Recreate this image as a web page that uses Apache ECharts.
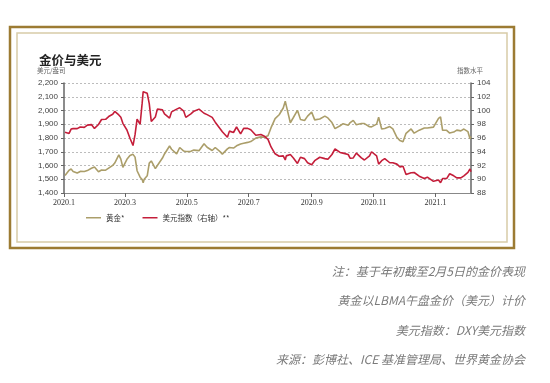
<!DOCTYPE html>
<html><head><meta charset="utf-8">
<script src="https://cdn.jsdelivr.net/npm/echarts@6/dist/echarts.min.js"></script>
<style>html,body{margin:0;padding:0;background:#fff}#c{width:550px;height:383px}</style>
</head><body><div id="c"></div>
<script>
var dates = ['2020-01-02','2020-01-06','2020-01-08','2020-01-10','2020-01-14','2020-01-17','2020-01-21','2020-01-24','2020-01-28','2020-01-31',
'2020-02-04','2020-02-07','2020-02-11','2020-02-14','2020-02-18','2020-02-20','2020-02-24','2020-02-26','2020-02-28',
'2020-03-03','2020-03-06','2020-03-09','2020-03-11','2020-03-13','2020-03-16','2020-03-18','2020-03-19','2020-03-20','2020-03-23','2020-03-25','2020-03-27','2020-03-31',
'2020-04-02','2020-04-07','2020-04-09','2020-04-14','2020-04-16','2020-04-21','2020-04-24','2020-04-28','2020-04-30',
'2020-05-05','2020-05-08','2020-05-13','2020-05-18','2020-05-21','2020-05-26','2020-05-29',
'2020-06-03','2020-06-05','2020-06-10','2020-06-12','2020-06-16','2020-06-19','2020-06-23','2020-06-26','2020-06-30',
'2020-07-03','2020-07-08','2020-07-13','2020-07-16','2020-07-20','2020-07-23','2020-07-27','2020-07-31',
'2020-08-04','2020-08-06','2020-08-07','2020-08-11','2020-08-14','2020-08-18','2020-08-21','2020-08-25','2020-08-28',
'2020-09-01','2020-09-04','2020-09-09','2020-09-14','2020-09-17','2020-09-21','2020-09-24','2020-09-25','2020-09-29',
'2020-10-02','2020-10-07','2020-10-09','2020-10-12','2020-10-15','2020-10-20','2020-10-23','2020-10-28','2020-10-30',
'2020-11-04','2020-11-06','2020-11-09','2020-11-12','2020-11-17','2020-11-20','2020-11-24','2020-11-27','2020-11-30',
'2020-12-03','2020-12-08','2020-12-11','2020-12-16','2020-12-21','2020-12-24','2020-12-30',
'2021-01-04','2021-01-06','2021-01-08','2021-01-12','2021-01-15','2021-01-19','2021-01-22','2021-01-26','2021-01-29',
'2021-02-02','2021-02-04','2021-02-05'];
var gold = [1528,1566,1574,1557,1546,1557,1556,1563,1580,1589,
1555,1567,1566,1581,1601,1618,1677,1646,1586,
1645,1672,1681,1661,1562,1515,1498,1474,1500,1525,1617,1633,1577,
1600,1654,1684,1742,1718,1685,1731,1705,1702,
1703,1712,1708,1758,1733,1709,1731,
1699,1683,1721,1731,1727,1743,1757,1762,1768,
1774,1799,1808,1805,1816,1875,1941,1969,
2018,2067,2035,1911,1949,2001,1935,1927,1959,
1988,1932,1938,1959,1946,1912,1868,1863,1889,
1904,1893,1912,1928,1897,1906,1905,1882,1881,
1901,1951,1866,1869,1883,1866,1805,1781,1772,
1834,1866,1835,1857,1873,1873,1879,
1943,1954,1856,1856,1836,1843,1857,1852,1865,
1846,1794,1811];
var dxy = [96.85,96.67,97.30,97.36,97.37,97.61,97.55,97.87,97.95,97.39,
97.97,98.69,98.72,99.12,99.45,99.86,99.35,99.03,98.13,
97.17,95.97,94.90,96.48,98.75,98.0,101.07,102.74,102.82,102.5,101.0,98.4,99.05,
100.2,100.1,99.5,98.9,99.8,100.2,100.4,99.9,99.0,
99.5,99.9,100.2,99.6,99.4,99.0,98.3,
97.3,96.9,96.1,97.0,96.8,97.6,96.6,97.4,97.4,
97.2,96.4,96.5,96.3,95.8,94.7,93.7,93.35,
93.4,92.8,93.4,93.6,93.1,92.3,93.2,93.0,92.4,
92.1,92.7,93.2,93.0,92.9,93.6,94.4,94.6,93.9,
93.8,93.6,93.05,93.1,93.8,93.1,92.8,93.4,94.0,
93.4,92.2,92.7,93.0,92.4,92.4,92.2,91.8,91.9,
90.7,90.95,90.98,90.45,90.1,90.3,89.7,
89.9,89.5,90.1,90.1,90.8,90.5,90.2,90.2,90.5,
91.0,91.5,91.1];
var monthTicks = ['2020-01-01','2020-03-01','2020-05-01','2020-07-01','2020-09-01','2020-11-01','2021-01-01'];
var title = '金价与美元';
var leftUnit = '美元/盎司';
var rightUnit = '指数水平';
var seriesNames = ['黄金*','美元指数（右轴）**'];
var notes = ['注：基于年初截至2月5日的金价表现','黄金以LBMA午盘金价（美元）计价','美元指数：DXY美元指数','来源：彭博社、ICE 基准管理局、世界黄金协会'];

function ts(s){var p=s.split('-');return Date.UTC(+p[0],+p[1]-1,+p[2]);}
var tickVals = monthTicks.map(ts);
var goldData = dates.map(function(d,i){return [ts(d),gold[i]];});
var dxyData = dates.map(function(d,i){return [ts(d),dxy[i]];});

var chart = echarts.init(document.getElementById('c'));
var gridLine = {show:true,lineStyle:{color:'#a0a0a0',width:0.7,type:[2,2]}};
var noteGraphics = notes.map(function(t,i){
  return {type:'text',right:25,top:265+i*29.5,style:{text:t,fill:'#7a7a7a',font:'italic 12px "Noto Sans CJK SC", sans-serif',textAlign:'right'}};
});
chart.setOption({
  animation:false,
  backgroundColor:'#fff',
  title:{text:title,left:34,top:49,textStyle:{fontSize:12.5,fontWeight:'bold',color:'#222',fontFamily:'"Noto Sans CJK SC", sans-serif'}},
  grid:{left:64,right:79,top:83,bottom:190},
  legend:{left:81,top:209,icon:'rect',itemWidth:15,itemHeight:1.5,itemGap:18,
    textStyle:{fontSize:7.5,color:'#333',fontFamily:'"Noto Sans CJK SC", serif'},
    data:seriesNames},
  xAxis:{type:'value',min:ts('2020-01-01'),max:ts('2021-02-05'),
    axisLine:{show:true,lineStyle:{color:'#888',width:1}},
    axisTick:{show:true,customValues:tickVals,length:4,lineStyle:{color:'#666'}},
    axisLabel:{customValues:tickVals,fontSize:8,color:'#333',fontFamily:'"Liberation Serif", serif',margin:6,
      formatter:function(v){var d=new Date(v);return d.getUTCFullYear()+'.'+(d.getUTCMonth()+1);}},
    splitLine:{show:false}},
  yAxis:[
    {type:'value',min:1400,max:2200,interval:100,position:'left',
     axisLine:{show:true,lineStyle:{color:'#666',width:1.5}},
     axisTick:{show:true,length:3,lineStyle:{color:'#666'}},
     axisLabel:{fontSize:8,color:'#444',fontFamily:'"Liberation Sans", Arial, sans-serif',margin:6,
       formatter:function(v){return v.toLocaleString('en-US');}},
     splitLine:gridLine},
    {type:'value',min:88,max:104,interval:2,position:'right',
     axisLine:{show:true,lineStyle:{color:'#666',width:1.5}},
     axisTick:{show:true,length:3,lineStyle:{color:'#666'}},
     axisLabel:{fontSize:8,color:'#444',fontFamily:'"Liberation Sans", Arial, sans-serif',margin:6},
     splitLine:{show:false}}
  ],
  series:[
    {name:seriesNames[0],type:'line',yAxisIndex:0,data:goldData,showSymbol:false,color:'#ab9e6a',lineStyle:{width:1.6,color:'#ab9e6a'}},
    {name:seriesNames[1],type:'line',yAxisIndex:1,data:dxyData,showSymbol:false,color:'#c41e3a',lineStyle:{width:1.6,color:'#c41e3a'}}
  ],
  graphic:[
    {type:'rect',shape:{x:10,y:27,width:504,height:221},style:{fill:'none',stroke:'#9c7b33',lineWidth:2.5},silent:true},
    {type:'rect',shape:{x:17,y:33,width:490,height:209},style:{fill:'none',stroke:'#d8cba8',lineWidth:1.5},silent:true},
    {type:'text',left:37,top:67,style:{text:leftUnit,fill:'#666',font:'6.5px "Noto Sans CJK SC", sans-serif'}},
    {type:'text',left:457,top:67,style:{text:rightUnit,fill:'#666',font:'6.5px "Noto Sans CJK SC", serif'}}
  ].concat(noteGraphics)
});
</script></body></html>
